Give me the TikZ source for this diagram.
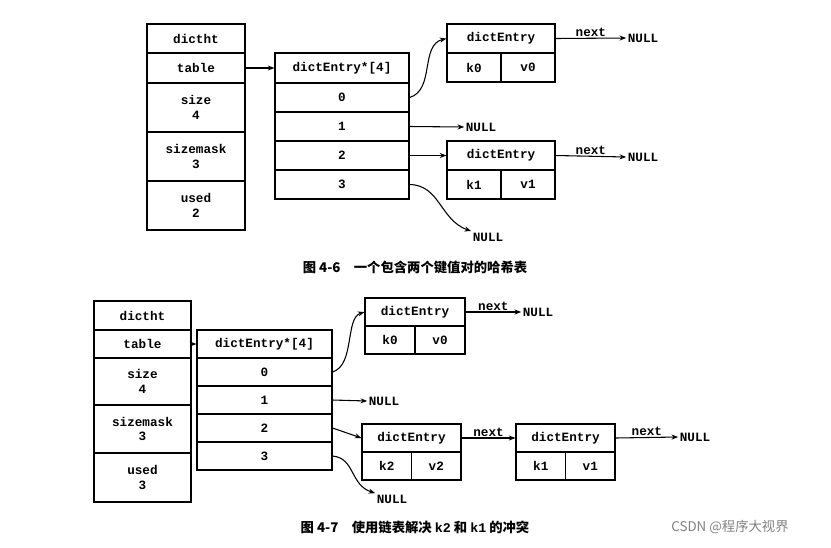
\documentclass[tikz,border=0pt]{standalone}
\usepackage{fontspec}
\setmainfont{Liberation Mono}
\newfontfamily\cjk{Noto Sans CJK SC}
\usetikzlibrary{arrows.meta}
\tikzset{
  cell/.style 2 args={draw, thick, minimum width=#1*0.75pt, minimum height=#2*0.75pt, inner sep=0pt, align=center,
    font=\fontsize{9.5}{11}\selectfont\bfseries},
  ptr/.style={-{Stealth[length=5pt]}, thick},
  lbl/.style={font=\fontsize{9.5}{11}\selectfont\bfseries, inner sep=1pt},
  caption/.style={font=\cjk\bfseries\fontsize{10}{12}\selectfont}
}
\begin{document}
\begin{tikzpicture}[x=0.75pt,y=-0.75pt]
\useasboundingbox (0,0) rectangle (831,547);
% figure 4-6
\node[cell={98}{29}] (ht) at (196,38.5) {dictht};
\node[cell={98}{30}] (tb) at (196,68) {table};
\node[cell={98}{49}] (sz) at (196,107.5) {size\\4};
\node[cell={98}{49}] (sm) at (196,156.5) {sizemask\\3};
\node[cell={98}{49}] (us) at (196,205.5) {used\\2};
\node[cell={134}{30}] (arr) at (342,68) {dictEntry*[4]};
\node[cell={134}{29}] (r0) at (342,97.5) {0};
\node[cell={134}{29}] (r1) at (342,126.5) {1};
\node[cell={134}{29}] (r2) at (342,155.5) {2};
\node[cell={134}{29}] (r3) at (342,184.5) {3};
\draw[ptr] (tb) -- (arr);
\node[cell={108}{29}] (ea) at (501,38.5) {dictEntry};
\node[cell={54}{29}] (ka) at (474,67.5) {k0};
\node[cell={54}{29}] (va) at (528,67.5) {v0};
\node[cell={108}{29}] (eb) at (501,155.5) {dictEntry};
\node[cell={54}{29}] (kb) at (474,184.5) {k1};
\node[cell={54}{29}] (vb) at (528,184.5) {v1};
\node[lbl] (na) at (643,38) {NULL};
\node[lbl] (nb) at (643,157) {NULL};
\node[lbl] (n1) at (481,127) {NULL};
\node[lbl] (n3) at (488,237) {NULL};
\draw[ptr] (ea.east) -- node[lbl, above] {next} (na.west);
\draw[ptr] (eb.east) -- node[lbl, above] {next} (nb.west);
\draw[ptr] (r0.east) .. controls (435,90) and (420,45) .. (ea.west);
\draw[ptr] (r1.east) -- (n1.west);
\draw[ptr] (r2.east) -- (eb.west);
\draw[ptr] (r3.east) .. controls (440,185) and (440,220) .. (n3.north west);
\node[caption] (c1) at (415,267) {图 4-6\quad 一个包含两个键值对的哈希表};
% figure 4-7
\node[cell={97}{29}] (ht2) at (142.5,315.5) {dictht};
\node[cell={97}{28}] (tb2) at (142.5,344) {table};
\node[cell={97}{47}] (sz2) at (142.5,381.5) {size\\4};
\node[cell={97}{48}] (sm2) at (142.5,429) {sizemask\\3};
\node[cell={97}{49}] (us2) at (142.5,477.5) {used\\3};
\node[cell={135}{28}] (arr2) at (264.5,344) {dictEntry*[4]};
\node[cell={135}{28}] (s0) at (264.5,372) {0};
\node[cell={135}{28}] (s1) at (264.5,400) {1};
\node[cell={135}{28}] (s2) at (264.5,428) {2};
\node[cell={135}{28}] (s3) at (264.5,456) {3};
\draw[ptr] (tb2) -- (arr2);
\node[cell={100}{28}] (ec) at (415,312) {dictEntry};
\node[cell={50}{28}] (kc) at (390,340) {k0};
\node[cell={50}{28}] (vc) at (440,340) {v0};
\node[cell={99}{28}] (ed) at (411.5,438) {dictEntry};
\node[cell={49.5}{28}] (kd) at (386.75,466) {k2};
\node[cell={49.5}{28}] (vd) at (436.25,466) {v2};
\node[cell={99}{28}] (ee) at (565.5,438) {dictEntry};
\node[cell={49.5}{28}] (ke) at (540.75,466) {k1};
\node[cell={49.5}{28}] (ve) at (590.25,466) {v1};
\node[lbl] (nc) at (538,312) {NULL};
\node[lbl] (ne) at (695,437) {NULL};
\node[lbl] (m1) at (384,401) {NULL};
\node[lbl] (m3) at (392,499) {NULL};
\draw[ptr] (ec.east) -- node[lbl, above] {next} (nc.west);
\draw[ptr] (ed.east) -- node[lbl, above] {next} (ee.west);
\draw[ptr] (ee.east) -- node[lbl, above] {next} (ne.west);
\draw[ptr] (s0.east) .. controls (355,365) and (345,318) .. (ec.west);
\draw[ptr] (s1.east) -- (m1.west);
\draw[ptr] (s2.east) -- (ed.west);
\draw[ptr] (s3.east) .. controls (355,458) and (350,485) .. (m3.north west);
\node[caption] (c2) at (415,527) {图 4-7\quad 使用链表解决 {\fontspec{Liberation Mono}k2} 和 {\fontspec{Liberation Mono}k1} 的冲突};
\node[font=\cjk\fontsize{10}{12}\selectfont, text=gray] (wm) at (730,527) {CSDN @程序大视界};
\end{tikzpicture}
\end{document}
